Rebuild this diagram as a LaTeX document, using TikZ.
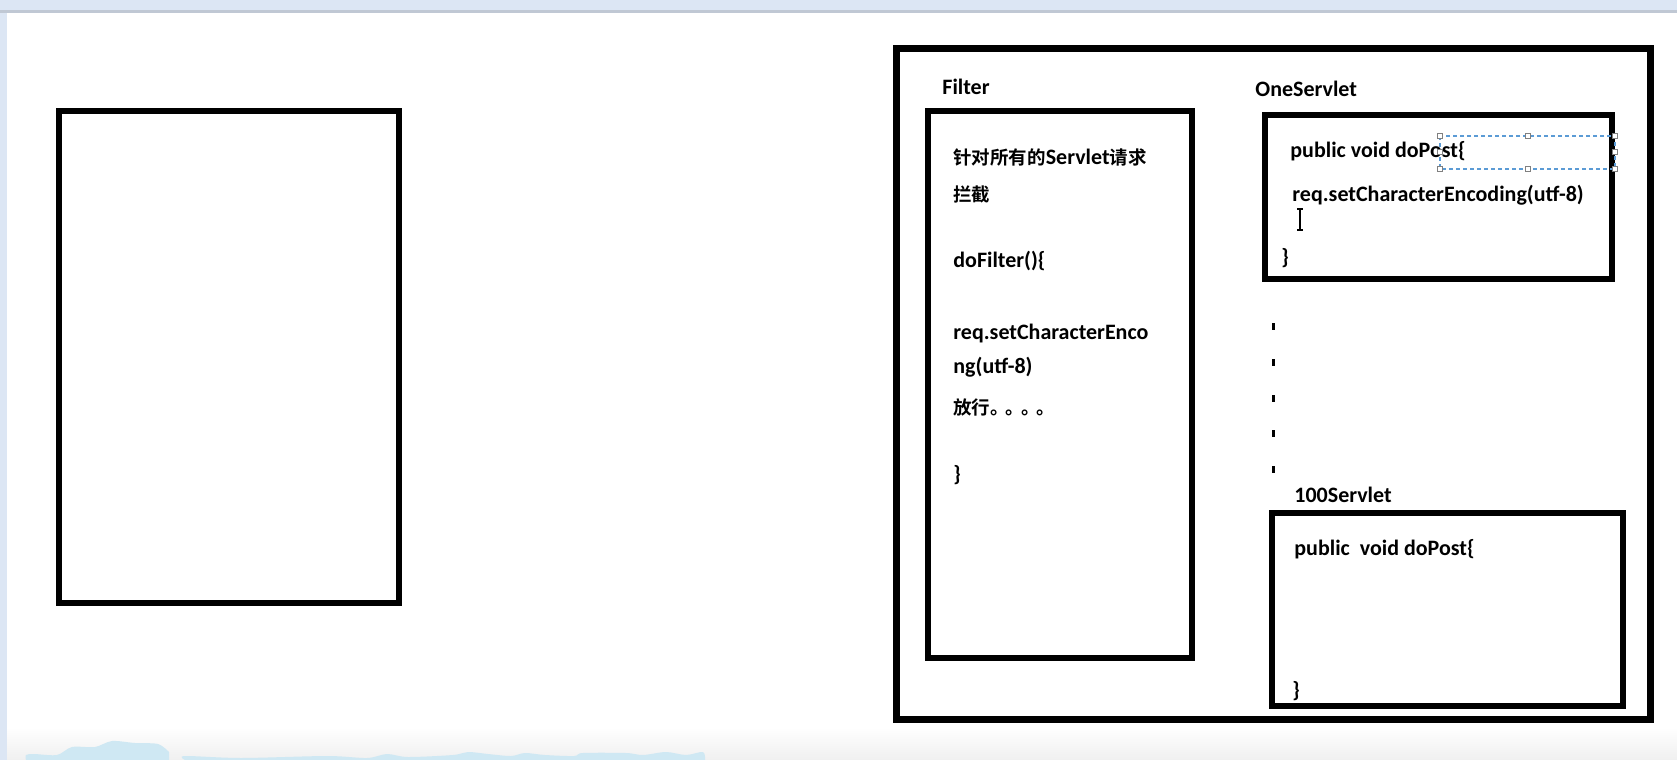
\documentclass[tikz,border=0pt]{standalone}
\usepackage{fontspec}
\setmainfont{Carlito}
\newfontfamily\cjk{Noto Sans CJK SC}[BoldFont={* Bold},Scale=0.84]

\definecolor{barblue}{RGB}{220,230,244}
\definecolor{barline}{RGB}{192,200,212}
\definecolor{waveblue}{RGB}{207,232,243}
\definecolor{selblue}{RGB}{91,155,213}

\begin{document}
\begin{tikzpicture}[x=0.5pt,y=-0.5pt,
    box/.style={draw,line width=3pt},
    code/.style={anchor=base west,inner sep=0pt,font=\fontsize{11}{13}\selectfont\bfseries},
    sel/.style={draw=selblue,line width=0.6pt,dash pattern=on 2pt off 1.5pt},
    handle/.style={draw=gray,fill=white,line width=0.4pt}]
      \useasboundingbox (0,0) rectangle (1677,760);

      % screen frame
      \fill[barblue] (0,0) rectangle (1677,10);
      \fill[barline] (0,10) rectangle (1677,13);
      \fill[barblue] (0,13) rectangle (7,760);
      \shade[top color=white,bottom color=black!6] (7,727) rectangle (1677,760);
      \fill[waveblue] plot[smooth] coordinates {(26,760) (26,755) (34,754) (57,755) (72,747) (95,747) (112,741) (135,743) (158,744) (169,752)} -- (169,760) -- cycle;
      \fill[waveblue] plot[smooth] coordinates {(185,760) (185,756) (241,758) (327,756) (367,758) (387,754) (408,757) (453,755) (468,752) (488,754) (511,756) (525,753) (545,755) (574,756) (583,753) (626,753) (643,755) (666,752) (686,755) (703,752) (705,760)} -- cycle;

      % boxes
      \draw[box] (59,111) rectangle (399,603);
      \draw[box,line width=3.5pt] (896,48) rectangle (1650,719);
      \draw[box] (928,111) rectangle (1192,658);
      \draw[box] (1265,115) rectangle (1612,279);
      \draw[box] (1272,513) rectangle (1623,706);

      % filter
      \node[code] (filter) at (942,94) {Filter};
      \node[code] (f1) at (953,164) {{\cjk 针对所有的}Servlet{\cjk 请求}};
      \node[code] (f2) at (953,201) {\cjk 拦截};
      \node[code] (f3) at (953,267) {doFilter()\{};
      \node[code] (f4) at (953,339) {req.setCharacterEnco};
      \node[code] (f5) at (953,373) {ng(utf-8)};
      \node[code] (f6) at (953,414) {\cjk 放行。\kern-1.5pt 。\kern-1.5pt 。\kern-1.5pt 。};
      \node[code] (f7) at (953,481) {\}};

      % one servlet
      \node[code] (one) at (1255,96) {OneServlet};
      \node[code] (o1) at (1290,157) {public void doPost\{};
      \node[code] (o2) at (1292,201) {req.setCharacterEncoding(utf-8)};
      \node[code] (o3) at (1281,264) {\}};
      \draw[sel] (1440,136) rectangle (1615,169);
      \foreach \x/\y in {1440/136,1528/136,1615/136,1440/152,1615/152,1440/169,1528/169,1615/169}
        \draw[handle] (\x-2.5,\y-2.5) rectangle (\x+2.5,\y+2.5);
      \draw[line width=0.6pt] (1297,209) -- (1303,209) (1300,209) -- (1300,230) (1297,230) -- (1303,230);

      \foreach \y in {327,363,399,434,470}
        \fill (1272,\y-4) rectangle (1275,\y+3);

      % 100 servlet
      \node[code] (hundred) at (1294,502) {100Servlet};
      \node[code] (h1) at (1294,555) {public\ \ void doPost\{};
      \node[code] (h2) at (1292,697) {\}};
    \end{tikzpicture}
\end{document}
